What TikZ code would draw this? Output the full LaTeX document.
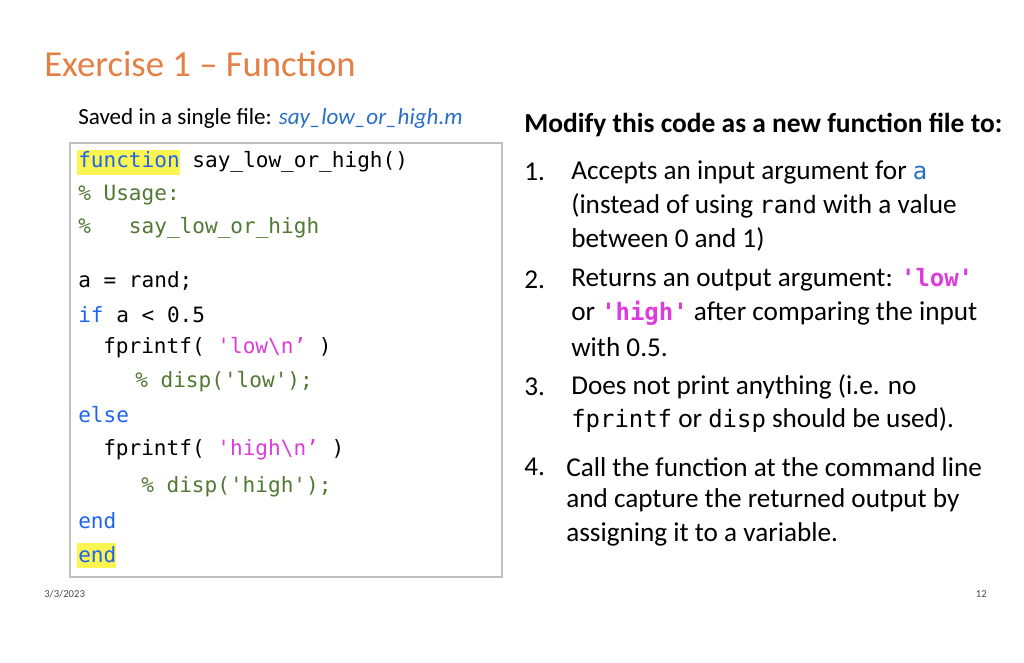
\documentclass[tikz,border=0pt]{standalone}
\usepackage{fontspec}
\setmainfont{Carlito}
\setmonofont{DejaVu Sans Mono}
\newfontfamily\smono[Scale=0.88]{DejaVu Sans Mono}
\definecolor{kw}{RGB}{30,100,240}
\definecolor{st}{RGB}{220,60,220}
\definecolor{cm}{RGB}{80,120,50}
\definecolor{ttl}{RGB}{228,128,70}
\definecolor{hl}{RGB}{250,245,80}
\definecolor{bluet}{RGB}{40,110,200}
\begin{document}
\begin{tikzpicture}[x=0.75pt,y=-0.75pt,
  code/.style={anchor=west,inner sep=0pt,font=\fontsize{15.8}{18}\ttfamily},
  txt/.style={anchor=west,inner sep=0pt,font=\fontsize{20.4}{24}\selectfont},
  small/.style={anchor=west,inner sep=0pt,font=\fontsize{8}{10}\selectfont,text=black!70}]
\useasboundingbox (0,0) rectangle (1024,663);
\node[anchor=west,inner sep=0pt,text=ttl,font=\fontsize{27.5}{32}\selectfont] (title) at (44,64) {Exercise 1 – Function};
\node[anchor=west,inner sep=0pt,font=\fontsize{17.3}{20}\selectfont] (saved) at (78,118) {Saved in a single file: \textcolor{bluet}{\itshape say\_low\_or\_high.m}};
\draw[black!25,line width=0.8pt] (70,143) rectangle (502,577);
\fill[hl] (77,150) rectangle (180,175);
\fill[hl] (77,543) rectangle (116,568);
\node[code] (c1) at (78,162) {\textcolor{kw}{function} say\_low\_or\_high()};
\node[code,text=cm] (c2) at (78,195) {\% Usage:};
\node[code,text=cm] (c3) at (78,228) {\%~~~say\_low\_or\_high};
\node[code] (c4) at (78,281) {a = rand;};
\node[code] (c5) at (78,315) {\textcolor{kw}{if} a < 0.5};
\node[code] (c6) at (103,348) {fprintf( \textcolor{st}{'low\textbackslash n’} )};
\node[code,text=cm] (c7) at (135,382) {\% disp('low');};
\node[code,text=kw] (c8) at (78,415) {else};
\node[code] (c9) at (103,450) {fprintf( \textcolor{st}{'high\textbackslash n’} )};
\node[code,text=cm] (c10) at (141,487) {\% disp('high');};
\node[code,text=kw] (c11) at (78,521) {end};
\node[code,text=kw] (c12) at (78,555) {end};
\node[txt,font=\fontsize{20.6}{24}\bfseries] (h) at (524,125) {Modify this code as a new function file to:};
\node[txt] (n1) at (524,172) {1.};
\node[txt] (t1a) at (571,172) {Accepts an input argument for \textcolor{bluet}{\smono a}};
\node[txt] (t1b) at (571,206) {(instead of using {\smono rand} with a value};
\node[txt] (t1c) at (571,239) {between 0 and 1)};
\node[txt] (n2) at (524,280) {2.};
\node[txt] (t2a) at (571,280) {Returns an output argument: \textcolor{st}{\smono\bfseries 'low'}};
\node[txt] (t2b) at (571,313) {or \textcolor{st}{\smono\bfseries 'high'} after comparing the input};
\node[txt] (t2c) at (571,347) {with 0.5.};
\node[txt] (n3) at (524,387) {3.};
\node[txt] (t3a) at (571,387) {Does not print anything (i.e. no};
\node[txt] (t3b) at (571,420) {{\smono fprintf} or {\smono disp} should be used).};
\node[txt] (n4) at (524,467) {4.};
\node[txt] (t4a) at (566,467) {Call the function at the command line};
\node[txt] (t4b) at (566,500) {and capture the returned output by};
\node[txt] (t4c) at (566,534) {assigning it to a variable.};
\node[small] (date) at (44,594) {3/3/2023};
\node[small,anchor=east] (pg) at (987,594) {12};
\end{tikzpicture}
\end{document}
